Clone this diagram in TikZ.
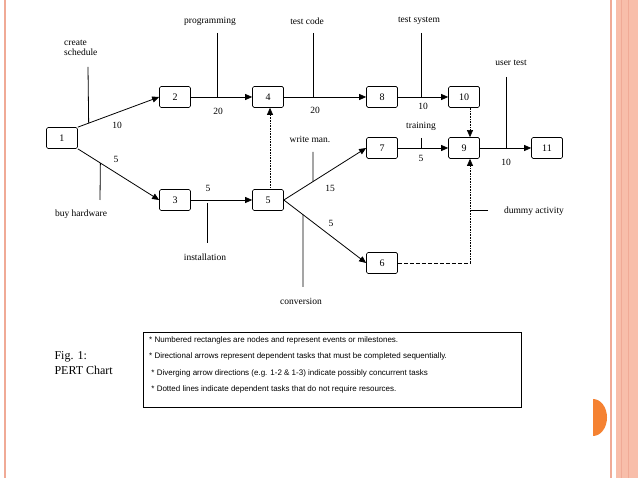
\documentclass[tikz,border=0pt]{standalone}
\usepackage{fontspec}
\setmainfont{Liberation Serif}
\newfontfamily\legendfont{Liberation Sans}
\usetikzlibrary{arrows.meta}
\definecolor{salmon}{RGB}{248,190,170}
\definecolor{salmonline}{RGB}{240,170,150}
\definecolor{orangedot}{RGB}{245,130,50}
\begin{document}
\begin{tikzpicture}[x=1pt,y=-1pt,
  ev/.style={draw,rounded corners=1.5pt,minimum width=31pt,minimum height=21pt,inner sep=0pt,font=\fontsize{10}{10}\selectfont,line width=0.7pt},
  lab/.style={font=\fontsize{9.5}{10}\selectfont,inner sep=1pt},
  arr/.style={line width=0.8pt,-{Triangle[length=7pt,width=6pt]}},
  tick/.style={line width=0.8pt},
  dotarr/.style={line width=0.6pt,densely dotted,-{Triangle[length=7pt,width=6pt]}},
  dsh/.style={line width=0.6pt,dash pattern=on 4pt off 2pt}]
\useasboundingbox (0,0) rectangle (638,478);
\fill[white] (0,0) rectangle (638,478);
% page decoration
\draw[salmonline,line width=1.2pt] (5,0) -- (5,478);
\draw[salmonline,line width=1.2pt] (611,0) -- (611,478);
\fill[salmon] (616,0) rectangle (638,478);
\draw[salmonline,line width=1pt] (621,0) -- (621,478);
\draw[salmonline,line width=1pt] (628,0) -- (628,478);
\fill[orangedot] (593,399) arc (90:-90:14pt and 18.5pt) -- cycle;
% nodes
\node[ev] (n1) at (62,138) {1};
\node[ev] (n2) at (175,97) {2};
\node[ev] (n4) at (268,97) {4};
\node[ev] (n8) at (382,97) {8};
\node[ev] (n10) at (464,97) {10};
\node[ev] (n7) at (382,148) {7};
\node[ev] (n9) at (464,148) {9};
\node[ev] (n11) at (547,148) {11};
\node[ev] (n3) at (175,200) {3};
\node[ev] (n5) at (268,200) {5};
\node[ev] (n6) at (382,263) {6};
% arrows
\draw[arr] (n1.north east) -- coordinate[pos=0.133] (c12) (n2.west);
\draw[arr] (n1.south east) -- coordinate[pos=0.277] (c13) (n3.west);
\draw[arr] (n2) -- (n4);
\draw[arr] (n4) -- (n8);
\draw[arr] (n8) -- (n10);
\draw[arr] (n3) -- (n5);
\draw[arr] (n5.east) -- coordinate[pos=0.354] (c57) (n7.west);
\draw[arr] (n5.east) -- coordinate[pos=0.232] (c56) (n6.west);
\draw[arr] (n7) -- (n9);
\draw[arr] (n9) -- (n11);
\draw[dotarr] (n5.north -| 270,0) -- (n4.south -| 270,0);
\draw[dotarr] (n10.south -| 470,0) -- (n9.north -| 470,0);
\coordinate (d) at (470,263);
\draw[dsh] (n6.east) -- (d);
\draw[dotarr] (d) -- (n9.south -| 470,0);
% labels and ticks
\node[lab,align=left,anchor=west] (ls) at (63,48) {create\\schedule};
\coordinate (ts) at (88,67);
\draw[tick] (ts) -- (c12);
\node[lab] (lb) at (81,214) {buy hardware};
\coordinate (tb) at (100,200);
\draw[tick] (tb) -- (c13);
\node[lab] (lp) at (210,21) {programming};
\coordinate (tp) at (217,33);
\draw[tick] (tp) -- (tp |- n2.east);
\node[lab] (lt) at (307,21) {test code};
\coordinate (tt) at (313,33);
\draw[tick] (tt) -- (tt |- n4.east);
\node[lab] (ly) at (419,21) {test system};
\coordinate (ty) at (421,33);
\draw[tick] (ty) -- (ty |- n8.east);
\node[lab] (lu) at (511,63) {user test};
\coordinate (tu) at (506,77);
\draw[tick] (tu) -- (tu |- n9.east);
\node[lab] (lr) at (421,126) {training};
\coordinate (tr) at (421,138);
\draw[tick] (tr) -- (tr |- n7.east);
\node[lab] (lw) at (310,139) {write man.};
\coordinate (tw) at (313,152);
\draw[tick] (tw) -- (c57);
\node[lab] (li) at (205,257) {installation};
\coordinate (ti) at (207,203);
\coordinate (ti2) at (207,243);
\draw[tick] (ti) -- (ti2);
\node[lab] (lc) at (301,301) {conversion};
\coordinate (tc) at (303,287);
\draw[tick] (tc) -- (c56);
\node[lab] (ld) at (534,211) {dummy activity};
\coordinate (td) at (488,210);
\draw[tick] (td) -- (470,210);
% durations
\node[lab] (w1) at (117,125) {10};
\node[lab] (w2) at (116,159) {5};
\node[lab] (w3) at (218,111) {20};
\node[lab] (w4) at (315,110) {20};
\node[lab] (w5) at (423,106) {10};
\node[lab] (w6) at (421,158) {5};
\node[lab] (w7) at (506,162) {10};
\node[lab] (w8) at (330,188) {15};
\node[lab] (w9) at (208,188) {5};
\node[lab] (w10) at (331,223) {5};
% legend
\node[font=\fontsize{12}{15}\selectfont,align=left,anchor=west] (fig) at (51,363) {Fig. 1:\\PERT Chart};
\node[draw,line width=0.7pt,minimum width=378pt,minimum height=75pt,anchor=north west] (box) at (143,332) {};
\node[font=\legendfont\fontsize{8}{16.3}\selectfont,align=left,anchor=north west,inner sep=0pt] (txt) at (149,336.5) {* Numbered rectangles are nodes and represent events or milestones.\\
* Directional arrows represent dependent tasks that must be completed sequentially.\\
\ * Diverging arrow directions (e.g. 1-2 \& 1-3) indicate possibly concurrent tasks\\
\ * Dotted lines indicate dependent tasks that do not require resources.};
\end{tikzpicture}
\end{document}
